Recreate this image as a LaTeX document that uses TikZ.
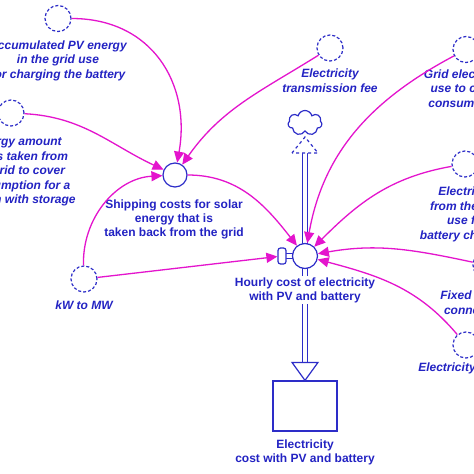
\documentclass[tikz,border=0pt]{standalone}
\usepackage{fontspec}
\setmainfont{Liberation Sans}
\usetikzlibrary{shapes.symbols,arrows.meta}
\definecolor{mg}{RGB}{228,20,205}
\definecolor{bl}{RGB}{45,45,200}
\definecolor{tx}{RGB}{35,35,195}
\begin{document}
\begin{tikzpicture}[x=1pt,y=1pt,
 aux/.style={circle,draw=bl,line width=1.2pt,minimum size=26pt,inner sep=0,dash pattern=on 3pt off 2pt},
 conv/.style={circle,draw=bl,line width=1.2pt,minimum size=25pt,inner sep=0,fill=white},
 albl/.style={text=tx,font=\fontsize{12}{14.5}\selectfont\bfseries\itshape,align=center,inner sep=0},
 lbl/.style={text=tx,font=\fontsize{12}{14}\selectfont\bfseries,align=center,inner sep=1pt},
 link/.style={draw=mg,line width=1.3pt,-{Triangle[length=11pt,width=10pt]}},
 pipe/.style={draw=bl,line width=1.2pt},
]
\useasboundingbox (0,0) rectangle (474,-474);
\fill[white] (0,0) rectangle (474,-474);

% auxiliaries
\node[aux] (acc) at (58,-18.5) {};
\node[albl] at (58,-60.5) {Accumulated PV energy\\in the grid use\\for charging the battery};
\node[aux] (eam) at (11,-113) {};
\node[albl] at (18,-172) {Energy amount\\that is taken from\\the grid to cover\\consumption for a\\system with storage};
\node[aux] (kw) at (84,-279) {};
\node[albl] at (84,-305) {kW to MW};
\node[aux] (tf) at (330,-48) {};
\node[albl] at (330,-80.5) {Electricity\\transmission fee};
\node[aux] (ge) at (466,-49.5) {};
\node[albl] at (466,-89.5) {Grid electricity\\use to cover\\consumption};
\node[aux] (eb) at (465,-164) {};
\node[albl] at (467,-214.5) {Electricity\\from the grid\\use for\\battery charging};
\node[aux] (fx) at (486,-265) {};
\node[albl] at (476,-302.5) {Fixed fee for\\connection};
\node[aux] (ep) at (466,-345) {};
\node[albl] at (463,-368) {Electricity price};

% converter
\node[conv,minimum size=24pt] (ship) at (175,-175) {};
\node[lbl] at (174,-219) {Shipping costs for solar\\energy that is\\taken back from the grid};

% flow
\node[cloud,cloud puffs=7,draw=bl,line width=1.2pt,minimum width=34pt,minimum height=25pt,inner sep=0,aspect=1.4] (cl) at (305,-123) {};
\node[draw=bl,line width=1.2pt,minimum width=64pt,minimum height=50pt,inner sep=0] (stock) at (305,-406) {};
\node[lbl] at (305,-452.5) {Electricity\\cost with PV and battery};
\coordinate (vc) at (305,-256);
\coordinate (ttip) at (305,-137);
\coordinate (btip) at (stock.north);
\draw[pipe] ([xshift=-2.5pt,yshift=-16pt]ttip) -- ([xshift=-2.5pt,yshift=12.25pt]vc);
\draw[pipe] ([xshift=2.5pt,yshift=-16pt]ttip) -- ([xshift=2.5pt,yshift=12.25pt]vc);
\draw[pipe] ([xshift=-2.5pt,yshift=-12.25pt]vc) -- ([xshift=-2.5pt,yshift=18pt]btip);
\draw[pipe] ([xshift=2.5pt,yshift=-12.25pt]vc) -- ([xshift=2.5pt,yshift=18pt]btip);
\draw[pipe,dashed,fill=white] ([xshift=-13pt,yshift=-16pt]ttip) -- (ttip) -- ([xshift=13pt,yshift=-16pt]ttip) -- cycle;
\draw[pipe,fill=white] ([xshift=-13pt,yshift=18pt]btip) -- (btip) -- ([xshift=13pt,yshift=18pt]btip) -- cycle;
\draw[pipe] ([xshift=-20pt,yshift=2.5pt]vc) -- ++(8,0);
\draw[pipe] ([xshift=-20pt,yshift=-2.5pt]vc) -- ++(8,0);
\node[conv] (valve) at (vc) {};
\node[draw=bl,line width=1.2pt,rounded corners=2.5pt,minimum width=8pt,minimum height=16pt,inner sep=0,fill=white] (handle) at (282,-256) {};
\node[lbl,fill=white] at (305,-290) {Hourly cost of electricity\\with PV and battery};

% links
\draw[link] (acc) to[out=0,in=80,looseness=1.15] (ship);
\draw[link] (eam) to[out=-3,in=155] (ship);
\draw[link] (kw) to[out=92,in=183] (ship);
\draw[link] (tf) to[out=212,in=55] (ship);
\draw[link] (ship) to[out=0,in=128] (valve);
\draw[link] (kw) -- (handle);
\draw[link] (ge) to[out=208,in=80] (valve);
\draw[link] (eb) to[out=190,in=45] (valve);
\draw[link] (fx) to[out=168,in=10] (valve);
\draw[link] (ep) to[out=130,in=-15] (valve);
\end{tikzpicture}
\end{document}
